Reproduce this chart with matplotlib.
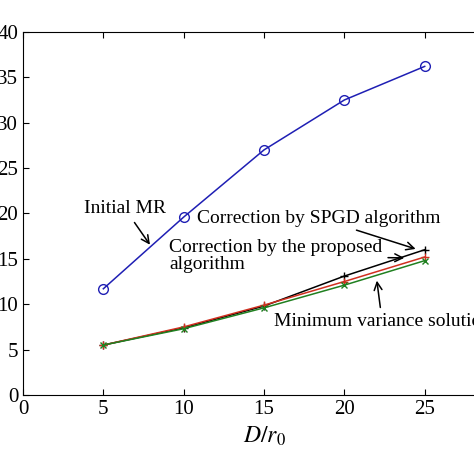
import matplotlib
matplotlib.use("Agg")
import matplotlib.pyplot as plt

x = [5, 10, 15, 20, 25]
initial = [11.7, 19.6, 27.0, 32.5, 36.2]
spgd = [5.5, 7.4, 9.8, 13.1, 16.0]
proposed = [5.5, 7.5, 9.9, 12.5, 15.2]
minvar = [5.5, 7.3, 9.6, 12.1, 14.8]

plt.rcParams['font.family'] = ['Liberation Serif']
plt.rcParams['mathtext.fontset'] = 'stix'
fig = plt.figure(figsize=(4.74, 4.74), dpi=100)
ax = fig.add_axes([0.0485, 0.1667, 1.017, 0.766])
ax.plot(x, initial, color='#1f1fb4', marker='o', mfc='none', ms=7, lw=1.1)
ax.plot(x, spgd, color='black', marker='+', ms=6, lw=1.1)
ax.plot(x, proposed, color='#d03020', marker='+', ms=6, lw=1.1)
ax.plot(x, minvar, color='#208020', marker='x', ms=5, lw=1.1)
ax.set_xlim(0, 30)
ax.set_ylim(0, 40)
ax.set_xticks(range(0, 31, 5))
ax.set_yticks(range(0, 41, 5))
ax.tick_params(direction='in', labelsize=15, length=4, top=True, right=True)
ax.set_xlabel(r'$D/r_0$', fontsize=17)
ap = dict(arrowstyle='->', color='black', lw=1.1)
fs = 14
ax.annotate('Initial MR', xy=(8, 16.3), xytext=(3.8, 20.0), fontsize=fs, arrowprops=ap)
ax.annotate('Correction by SPGD algorithm', xy=(24.6, 16.0), xytext=(10.8, 19.0), fontsize=fs, arrowprops=ap)
ax.annotate('Correction by the proposed\nalgorithm', xy=(23.9, 15.1), xytext=(9.1, 13.9), fontsize=fs, arrowprops=ap, linespacing=0.95)
ax.annotate('Minimum variance solution', xy=(22, 12.9), xytext=(15.6, 7.6), fontsize=fs, arrowprops=ap)
fig.savefig('out.png', dpi=100)
